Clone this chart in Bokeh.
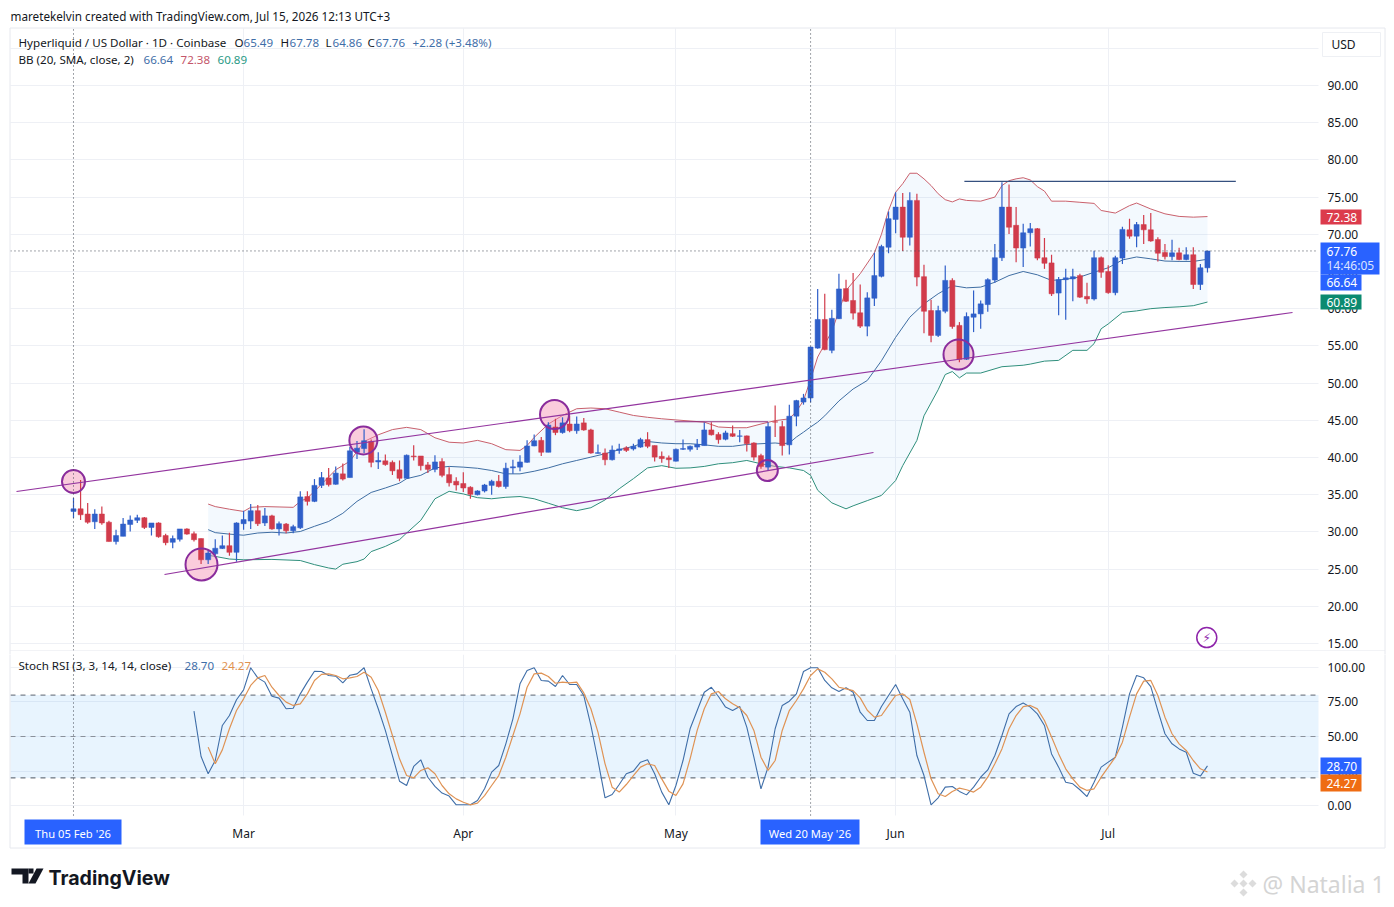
from bokeh.plotting import figure
from bokeh.layouts import column
from bokeh.models import (Label, BoxAnnotation, PolyAnnotation, FixedTicker, Grid, LinearAxis,
                          PrintfTickFormatter, Range1d)
from bokeh.embed import file_html
from bokeh.resources import INLINE
from bokeh.core.properties import value

# ---------- data (days counted from Thu 05 Feb 2026) ----------
opens = [32.75,33.1,32.4,31.36,32.4,31.3,28.7,29.4,31.0,31.55,31.9,30.6,31.2,29.5,28.6,29.0,30.4,29.75,29.1,26.25,
27.05,27.75,28.15,27.25,31.1,31.45,32.85,31.2,32.15,30.4,31.05,30.15,30.55,34.75,34.1,36.25,37.25,36.4,37.8,37.3,
40.7,41.2,42.15,39.4,39.55,39.35,38.35,37.2,40.2,40.2,39.0,38.4,39.45,37.7,36.8,36.5,36.0,35.0,35.5,36.25,
36.8,36.1,38.6,38.7,39.35,41.55,42.3,40.7,44.1,43.35,44.5,43.6,44.65,43.7,40.55,40.6,39.7,40.95,41.3,41.15,
41.4,42.4,41.6,40.15,39.95,39.5,41.1,41.1,41.4,41.6,43.7,43.1,42.45,43.2,42.85,42.9,41.95,40.25,38.7,44.8,
44.15,41.7,45.55,47.45,48.0,54.7,58.55,54.4,58.65,62.7,61.1,59.45,57.65,61.4,64.35,68.25,72.0,73.65,69.6,74.55,
64.3,59.75,56.4,59.65,63.8,57.75,53.2,58.85,59.3,60.55,63.85,66.85,73.65,71.2,68.15,70.2,70.75,66.85,66.15,62.1,
63.9,64.0,64.45,61.65,61.3,66.85,65.0,62.15,66.8,70.6,69.75,71.3,70.6,69.3,67.55,67.0,67.5,66.6,67.25,63.25,65.49]
highs = [34.55,36.97,33.87,33.05,33.4,31.5,30.3,31.85,32.2,32.3,32.0,31.2,31.3,29.75,29.5,30.4,30.5,30.06,29.1,27.6,
29.0,29.5,29.9,31.3,32.85,33.75,33.6,33.2,32.3,31.4,31.2,30.95,35.45,35.45,37.1,38.05,38.6,38.8,39.2,41.4,
42.2,43.8,42.4,40.7,40.4,39.6,39.6,40.4,41.65,40.2,39.4,40.3,39.9,38.7,37.35,38.0,36.15,35.6,36.45,37.0,
37.65,39.3,39.7,40.3,42.3,43.1,42.75,44.75,45.2,45.4,45.65,45.5,45.3,43.85,41.75,41.2,41.6,41.85,41.5,41.85,
42.65,43.4,41.6,40.8,40.25,41.2,42.4,41.6,42.5,44.75,44.75,43.4,43.6,44.3,43.7,42.95,42.05,40.5,44.75,47.0,
44.9,47.1,47.75,48.55,54.9,62.65,62.0,59.85,64.7,63.9,64.8,63.25,62.2,67.5,68.6,73.05,75.65,75.55,75.65,75.45,
65.9,61.2,60.4,65.8,64.1,58.2,59.5,62.45,61.1,64.1,68.7,77.0,76.7,73.65,71.4,71.5,70.85,69.5,67.25,64.25,
65.35,65.35,64.7,63.5,67.8,67.0,65.85,67.1,71.0,72.1,71.65,72.6,72.85,69.6,68.7,69.25,68.2,68.25,68.25,66.0,67.78]
lows = [31.85,31.6,31.1,30.4,30.96,28.7,28.3,29.4,30.06,31.2,30.4,29.5,29.2,28.2,27.8,28.7,29.6,28.7,25.7,25.7,
26.9,27.7,26.8,26.0,30.3,30.4,30.8,30.8,30.3,29.5,29.8,29.8,30.4,33.55,34.0,35.9,36.1,36.35,36.9,37.3,
39.8,40.6,38.7,38.45,38.9,37.65,36.8,37.2,39.6,38.25,37.9,38.0,37.35,36.1,35.55,35.35,34.45,34.9,35.3,35.0,
35.95,35.8,37.8,38.15,39.3,41.5,40.2,40.7,43.0,43.2,43.4,43.2,43.6,40.5,40.55,38.95,39.6,40.5,40.75,40.95,
41.3,41.25,39.45,39.3,38.6,39.45,41.0,40.8,41.0,41.6,42.95,41.85,42.3,42.75,42.05,40.8,39.6,38.5,38.25,42.75,
40.25,40.4,44.2,47.1,47.4,54.6,54.4,54.0,58.6,60.9,58.55,57.4,56.3,60.35,64.2,67.45,70.15,67.75,68.5,63.0,
56.7,55.5,56.2,59.4,57.3,52.8,53.1,56.85,57.3,59.6,63.5,66.4,70.05,66.25,65.6,68.35,66.5,65.35,61.7,59.1,
58.5,61.0,61.45,60.65,61.1,64.15,62.0,61.8,66.0,69.4,68.25,68.7,69.0,66.35,66.6,66.5,66.5,66.5,62.65,62.5,64.86]
closes = [33.1,32.3,31.3,32.4,31.2,28.7,29.5,31.05,31.6,31.9,30.6,31.2,29.35,28.55,29.1,30.4,29.7,28.95,26.25,27.15,
27.8,28.15,27.25,31.2,31.65,32.85,31.1,32.15,30.4,31.1,30.15,30.7,34.7,34.1,36.25,37.3,36.35,37.9,37.1,40.9,
41.25,42.25,39.35,39.6,39.05,38.2,37.2,40.3,40.1,38.9,38.4,39.4,37.6,36.6,36.3,35.9,35.05,35.5,36.3,36.8,
36.1,38.55,38.75,39.4,41.55,42.25,40.7,44.35,43.35,44.65,43.6,44.5,43.7,40.6,40.65,39.7,41.0,41.15,40.95,41.5,
42.4,41.5,40.05,39.85,39.7,41.1,41.2,41.5,41.75,43.7,43.05,42.4,43.3,42.85,42.9,41.85,40.05,38.8,44.15,44.75,
41.6,45.55,47.65,48.0,54.85,58.55,54.5,58.7,62.65,61.0,59.4,57.65,61.45,64.45,68.35,72.1,73.65,69.6,74.55,64.25,
59.65,56.4,59.75,63.8,57.6,53.2,58.95,59.3,60.65,63.9,66.85,73.65,70.95,68.15,70.2,70.75,66.8,66.1,62.0,63.9,
64.15,64.3,61.55,61.3,66.85,64.9,62.15,66.85,70.65,69.75,71.3,70.6,69.1,67.45,67.0,67.5,66.6,67.25,63.25,65.5,67.76]
assert len(opens) == len(highs) == len(lows) == len(closes) == 161

upper_days = [19,20,22,24,25,27,29,31,32,33,34,37,39,40,41,43,45,47,49,51,53,55,57,59,61,63,64,65,67,69,71,73,75,77,79,81,83,85,87,89,91,93,95,97,99,101,102,103,104,105,107,109,111,113,114,115,116,117,118,119,120,121,122,123,124,125,126,128,130,131,132,133,134,135,136,137,138,140,142,144,145,147,149,150,152,154,156,158,160]
upper_vals = [33.74,33.4,33.05,32.75,33.3,33.4,33.35,33.3,34.1,34.55,35.45,38.35,39.5,40.8,42.15,43.05,43.75,44.05,43.75,42.65,42.05,41.95,42.3,41.85,41.05,40.95,41.6,42.7,44.5,45.65,46.55,46.65,46.55,46.1,45.65,45.4,45.2,45.05,44.9,44.75,44.1,44.0,44.0,44.5,44.95,45.2,46.2,47.65,50.5,53.5,56.95,62.45,64.7,67.5,70.0,73.2,75.65,76.8,78.2,78.2,77.45,76.55,75.45,74.65,74.35,74.75,74.55,74.45,75.0,76.55,77.2,77.45,77.6,77.3,76.4,75.8,74.45,74.45,74.3,74.15,73.2,72.85,73.85,74.2,73.4,72.75,72.4,72.3,72.38]
basis_days = [19,20,22,24,26,28,30,32,34,36,38,40,42,44,46,47,49,51,53,55,57,59,61,63,65,67,69,71,73,75,77,79,81,83,85,87,89,91,93,95,97,99,100,101,102,103,104,105,106,108,110,112,114,116,118,120,122,124,126,128,130,132,134,136,138,140,142,144,146,148,150,152,154,156,158,160]
basis_vals = [30.3,29.9,29.7,29.55,29.85,29.95,29.85,30.05,30.75,31.4,32.5,34.1,35.3,35.9,36.55,37.15,37.6,38.6,38.8,38.7,38.55,38.25,37.8,37.8,38.15,38.6,39.15,39.6,40.05,40.5,41.05,41.5,42.15,41.95,41.85,41.85,41.7,41.5,41.5,41.75,41.85,41.95,41.85,41.95,42.75,43.4,44.1,44.75,45.6,47.6,49.2,50.35,53.0,56.15,58.85,60.65,62.0,63.1,62.8,62.9,63.55,64.45,65.0,64.55,63.8,63.95,64.25,64.9,65.5,66.55,66.95,66.7,66.4,66.35,66.35,66.64]
lower_days = [19,20,22,24,28,32,34,36,37,38,40,41,42,44,46,47,49,51,53,55,57,59,61,63,65,67,69,71,73,75,77,79,81,83,85,87,89,91,93,95,97,99,101,103,104,105,107,109,110,112,114,116,117,119,120,122,123,124,125,126,128,131,134,135,137,139,141,143,144,145,146,148,150,152,154,156,158,160]
lower_vals = [26.85,26.7,26.35,26.25,26.3,26.15,25.6,25.15,25.0,25.65,26.0,26.35,27.35,28.05,28.95,29.85,31.55,34.45,35.45,35.1,34.6,34.45,34.65,34.75,34.45,33.85,33.25,32.85,33.25,34.3,35.8,37.15,38.6,38.9,38.55,38.6,38.8,39.15,39.3,39.6,39.15,38.8,38.6,38.25,37.6,35.6,33.9,33.1,33.5,34.2,34.9,36.9,38.9,42.3,45.6,49.1,51.15,51.55,50.7,51.35,51.35,52.2,52.4,52.55,52.95,53.05,54.4,54.4,55.3,57.3,57.95,59.5,59.7,60.0,60.15,60.25,60.4,60.89]

stoch_k = [68.4,35.5,23,32.6,58,65.2,76.6,83.8,99.8,92.5,89.4,79.2,77.8,70.1,70.5,80.9,89.4,97.3,97.1,94.2,93.7,88.9,94.4,95.4,99.8,84.5,70.1,54.4,36.2,17.6,14.5,28.3,33.1,20.5,13.8,9,6.8,0.5,0.5,0.5,3.6,12.1,24.2,29,44.7,62.8,88.2,97.8,
99.8,90.6,90.1,86.2,94.2,87.7,87.7,79.7,58,32.6,5.6,8,15.2,23,24.9,31.4,33.1,23,9.7,0.5,14.5,32.6,55.6,68.8,82.1,85.7,79,71.3,68.8,71.7,56.8,35,12.1,27.8,55.6,72.5,75.6,80.9,97.1,99.8,99.8,90.6,85.3,82.6,85.3,82.1,67.6,61.6,
61.6,71.7,79.7,87.7,77.3,67.6,36.2,21.7,0.5,5.6,13.3,13.8,10.2,7.7,13.3,20.5,25.8,36.2,50.7,66.4,71.7,74.2,71.3,66.4,58,37.4,27.8,16.9,15.7,11.4,6.5,16.9,27.8,31.4,35,56.8,80.9,94.2,92.5,86.2,68.8,52,44.7,41,38.6,23.4,21.3,28.7]
stoch_d = [42.3,30.2,40.3,55.6,68.8,77.3,87,92.5,94.2,85.7,79.7,74.9,72.5,73.7,80.9,90.6,95,95.4,94.2,91.8,92.5,93.5,96.6,93,83.3,67.6,50.7,33.8,21.7,20,25.4,27.3,23,14.5,8.5,4.8,2.4,0.5,1.7,7.2,14.5,21.7,35,50.7,66.4,85.7,
95.4,95.9,93.5,88.6,89.4,88.9,89.4,81.6,70.1,53.2,30.2,13.3,9.7,15.2,21.7,27.8,30.2,29,19.3,10.4,7.2,15.7,33.8,54.4,70.1,80.9,82.6,77.3,73.7,70.8,65.2,54.4,35,25.4,32.6,54.4,68.8,76.1,84.5,94.2,99,96.6,91.8,85.7,84.5,83.3,78,69,
64,65.2,72.5,79.7,80.9,76.8,59.2,38.6,19.3,8.5,6.5,10.2,12.6,11.4,9.7,13.3,20.5,30.2,41,55.6,65.2,71.7,72.5,70,61.6,49.6,37.4,26.6,19.3,13.3,10.9,12.1,20.5,27.8,35,45.9,64,80.9,90.1,90.6,79.7,64,52,44.7,39.9,32.6,26.6,24.27]
assert len(stoch_k) == 144 and len(stoch_d) == 142

price_ticks = [15,20,25,30,35,40,45,50,55,60,65,70,75,80,85,90,95]
stoch_ticks = [0,25,50,75,100]
month_ticks = [24,55,85,116,146]
month_labels = ["Mar","Apr","May","Jun","Jul"]

# drawings: (day, price)
channel_upper = ([-8.04,172.0],[35.43,59.49])
channel_lower = ([12.84,112.87],[24.27,40.67])
level_top = ([125.7,164.0],[77.1,77.1])
level_mid = ([84.8,98.0],[44.8,44.8])
touch_days = [0,18.06,40.9,67.87,97.9,124.87]
touch_prices = [36.77,25.62,42.29,45.78,38.25,53.84]
touch_sizes = [23,32,28,29,21,30]
cross_days = [0,104]

# ---------- style ----------
UP, DOWN = "#2f5fc9", "#d13b4b"
GRID = "#eef0f5"
INK = "#131722"
FONT = "Noto Sans"
days = list(range(len(opens)))
X0, X1 = -8.89, 175.66              # the chart pane, in days
x_range = Range1d(-10.30, 185.26)   # the whole page width, in days

def base(height, ymin, ymax, pane, ticks):
    p = figure(width=1386, height=height, x_range=x_range, y_range=Range1d(ymin, ymax),
               output_backend="svg", toolbar_location=None, x_axis_location=None, y_axis_location=None,
               min_border=0)
    p.outline_line_color = None
    p.center = []
    p.add_layout(Grid(dimension=0, ticker=FixedTicker(ticks=month_ticks), grid_line_color=GRID, cross_bounds=pane))
    p.add_layout(Grid(dimension=1, ticker=FixedTicker(ticks=ticks), grid_line_color=GRID, cross_bounds=(X0, X1)))
    ya = LinearAxis(ticker=FixedTicker(ticks=ticks), formatter=PrintfTickFormatter(format="%.2f"), fixed_location=X1)
    ya.axis_line_color = None
    ya.major_tick_line_color = None
    ya.minor_tick_line_color = None
    ya.major_label_text_font = FONT
    ya.major_label_text_font_size = "12px"
    ya.major_label_text_color = INK
    ya.major_label_standoff = 3
    p.add_layout(ya, "right")
    return p, ya

def text(p, top, s, x, y, color=INK, size="12px", style="normal", font=FONT, align="left"):
    p.add_layout(Label(x=x, y=y-top, x_units="canvas", y_units="canvas", text=s, text_font=font,
                       text_font_size=size, text_color=color, text_baseline="middle", text_align=align,
                       text_font_style=style))

def box(p, top, x0, x1, y0, y1, fill=None, line=None):
    p.add_layout(BoxAnnotation(left=x0, right=x1, top=y0-top, bottom=y1-top,
                               left_units="canvas", right_units="canvas", top_units="canvas", bottom_units="canvas",
                               fill_color=fill, fill_alpha=1 if fill else 0, line_color=line, line_alpha=1 if line else 0,
                               line_width=1))

def poly(p, top, xs, ys, color):
    p.add_layout(PolyAnnotation(xs=xs, ys=[y-top for y in ys], xs_units="canvas", ys_units="canvas",
                                fill_color=color, fill_alpha=1, line_color=None))

# ---------- price pane ----------
TOP1 = 0
PANE1 = (14.06, 97.66)
p1, ya1 = base(654, 13.52, 101.42, PANE1, price_ticks)
ya1.major_label_overrides = {95: ""}

p1.patch(upper_days + lower_days[::-1], upper_vals + lower_vals[::-1], fill_color="#2196f3", fill_alpha=0.055, line_color=None)
p1.line(upper_days, upper_vals, line_color="#c9606c", line_width=1)
p1.line(basis_days, basis_vals, line_color="#3f6ea3", line_width=1)
p1.line(lower_days, lower_vals, line_color="#2f8f7c", line_width=1)
p1.scatter(touch_days, touch_prices, size=touch_sizes, marker="circle", fill_color="#f48fb1", fill_alpha=0.45, line_color=None)

colors = [UP if c >= o else DOWN for o, c in zip(opens, closes)]
p1.segment(days, lows, days, highs, line_color=colors, line_width=1.2)
p1.vbar(days, top=[max(o, c) for o, c in zip(opens, closes)], bottom=[min(o, c) for o, c in zip(opens, closes)],
        width=0.72, fill_color=colors, line_color=colors, line_width=0.5)

p1.line(*channel_upper, line_color="#93349f", line_width=1.2)
p1.line(*channel_lower, line_color="#93349f", line_width=1.2)
p1.line(*level_top, line_color="#35507f", line_width=1.2)
p1.line(*level_mid, line_color="#8e2f7e", line_width=1.2)
p1.scatter(touch_days, touch_prices, size=touch_sizes, marker="circle", fill_color=None, line_color="#8a2c9c", line_width=2)

p1.segment(cross_days, [PANE1[0]]*2, cross_days, [PANE1[1]]*2, line_color="#444a55", line_dash="1 3", line_width=1)
p1.line([X0, X1], [closes[-1]]*2, line_color="#444a55", line_dash="1 3", line_width=1)

p1.scatter([159.9], [15.8], size=20, marker="circle", fill_color="white", line_color="#8e24aa", line_width=1.5)
p1.text([159.9], [15.8], text=["\u26a1"], text_align="center", text_baseline="middle", text_color="#8e24aa",
        text_font=value("DejaVu Sans"), text_font_size="12px")

box(p1, TOP1, 9.5, 1384.5, 27.5, 670, line="#e6e8ee")
box(p1, TOP1, 9.5, 1384.5, 649.5, 650, fill="#e6e8ee")
box(p1, TOP1, 1322, 1380, 32, 56, fill="white", line="#eef0f4")
text(p1, TOP1, "USD", 1331, 44, size="12px")
text(p1, TOP1, "maretekelvin created with TradingView.com, Jul 15, 2026 12:13 UTC+3", 10, 15, size="11.7px")

text(p1, TOP1, "Hyperliquid / US Dollar \u00b7 1D \u00b7 Coinbase", 18, 42, size="11.6px")
VB, VR, VG = "#3f6ea8", "#c4566a", "#2a9a85"
for s, x, c in [("O", 234, INK), ("65.49", 243, VB), ("H", 280, INK), ("67.78", 289, VB), ("L", 325, INK), ("64.86", 332, VB),
                ("C", 367, INK), ("67.76", 375, VB), ("+2.28 (+3.48%)", 412, VB)]:
    text(p1, TOP1, s, x, 42, color=c, size="11.6px")
text(p1, TOP1, "BB (20, SMA, close, 2)", 18, 59, size="11.6px")
for s, x, c in [("66.64", 143, VB), ("72.38", 180, VR), ("60.89", 217, VG)]:
    text(p1, TOP1, s, x, 59, color=c, size="11.6px")

def tag(p, top, s, y0, y1, fill, x1=1361, extra=None):
    box(p, top, 1320, x1, y0, y1, fill=fill)
    text(p, top, s, 1326, (y0 + y1) / 2 if extra is None else y0 + 9, color="white", size="12px")

tag(p1, TOP1, "72.38", 209, 224, "#dc3b4c")
tag(p1, TOP1, "67.76", 242, 274, "#2962ff", x1=1379, extra=True)
text(p1, TOP1, "14:46:05", 1326, 265, color="#dbe4ff", size="12px")
tag(p1, TOP1, "66.64", 274, 290, "#2962ff")
tag(p1, TOP1, "60.89", 294, 309, "#0b8a70")

# ---------- stoch pane ----------
TOP2 = 654
PANE2 = (-7.25, 109.42)
p2, ya2 = base(246, -68.84, 109.42, PANE2, stoch_ticks)
xa = LinearAxis(ticker=FixedTicker(ticks=month_ticks), major_label_overrides=dict(zip(month_ticks, month_labels)),
                fixed_location=PANE2[0])
xa.axis_line_color = None
xa.major_tick_line_color = None
xa.minor_tick_line_color = None
xa.major_label_text_font = FONT
xa.major_label_text_font_size = "12px"
xa.major_label_text_color = INK
xa.major_label_standoff = 3
p2.add_layout(xa, "below")

p2.add_layout(BoxAnnotation(bottom=20, top=80, left=X0, right=X1, fill_color="#2196f3", fill_alpha=0.1, line_color=None, level="underlay"))
for level_val, col in ((80, "#5d6470"), (50, "#8a909a"), (20, "#4d5460")):
    p2.line([X0, X1], [level_val]*2, line_color=col, line_dash="5 5", line_width=1)
p2.segment(cross_days, [PANE2[0]]*2, cross_days, [PANE2[1]]*2, line_color="#444a55", line_dash="1 3", line_width=1)
p2.line(list(range(17, 161)), stoch_k, line_color="#3f6ea8", line_width=1.1)
p2.line(list(range(19, 161)), stoch_d, line_color="#df9355", line_width=1.2)

box(p2, TOP2, 9.5, 1384.5, 640, 847.5, line="#e6e8ee")
text(p2, TOP2, "Stoch RSI (3, 3, 14, 14, close)", 18, 665, size="11.6px")
text(p2, TOP2, "28.70", 184, 665, color=VB, size="11.6px")
text(p2, TOP2, "24.27", 221, 665, color="#e0914f", size="11.6px")

tag(p2, TOP2, "28.70", 757, 774, "#2962ff")
tag(p2, TOP2, "24.27", 774, 791, "#ef6c13")

for s, x0, x1 in [("Thu 05 Feb '26", 24, 121), ("Wed 20 May '26", 760, 859)]:
    box(p2, TOP2, x0, x1, 819, 844, fill="#2962ff")
    text(p2, TOP2, s, (x0 + x1) / 2, 833, color="white", size="11.2px", align="center")

# footer
poly(p2, TOP2, [11, 28, 28, 22, 22, 11], [868, 868, 883, 883, 874, 874], INK)
poly(p2, TOP2, [28, 33, 33, 28], [868, 868, 873, 873], INK)
poly(p2, TOP2, [36, 43, 35, 28], [868, 868, 883, 883], INK)
text(p2, TOP2, "TradingView", 48, 877, size="19.6px", style="bold", font="Inter")
for cx, cy in [(1243, 874), (1234, 883), (1252, 883), (1243, 892), (1243, 883)]:
    poly(p2, TOP2, [cx-4, cx, cx+4, cx], [cy, cy-4, cy, cy+4], "#dcdcdc")
text(p2, TOP2, "@ Natalia 1", 1262, 883, color="#d4d4d4", size="23px")

open("out.html", "w").write(file_html(column(p1, p2, spacing=0), INLINE))
